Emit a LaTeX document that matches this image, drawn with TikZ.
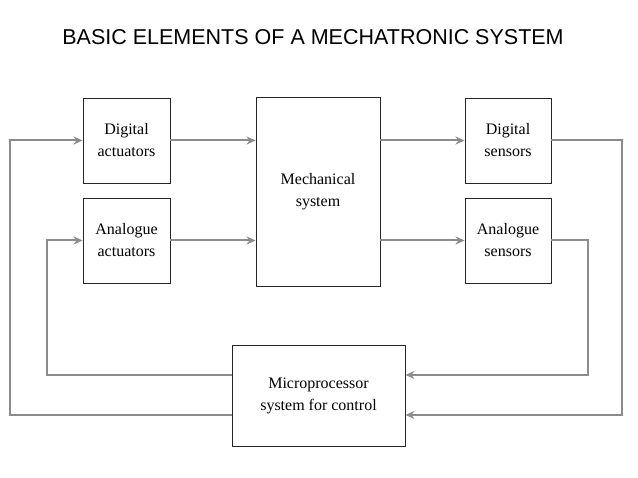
\documentclass[tikz,border=0pt]{standalone}
\usepackage{fontspec}
\setmainfont{Liberation Serif}
\newfontfamily\titlefont{Liberation Sans}
\usetikzlibrary{arrows.meta}
\begin{document}
\begin{tikzpicture}[x=1pt,y=-1pt,
  blk/.style={draw=black!85, line width=0.9pt, inner sep=0pt, align=center, font=\fontsize{16}{22}\selectfont},
  link/.style={draw=black!45, line width=2pt, -{Stealth[length=9pt,width=8pt]}},
  wire/.style={draw=black!45, line width=2pt}
]
\useasboundingbox (0,0) rectangle (638,478);
\node[font=\titlefont\fontsize{21.5}{24}\selectfont] (title) at (313,37) {BASIC ELEMENTS OF A MECHATRONIC SYSTEM};
% blocks
\node[blk, minimum width=87pt, minimum height=85pt] (da) at (126.5,140.5) {Digital\\actuators};
\node[blk, minimum width=87pt, minimum height=85pt] (aa) at (126.5,240.5) {Analogue\\actuators};
\node[blk, minimum width=124pt, minimum height=189pt] (ms) at (318,191.5) {Mechanical\\system};
\node[blk, minimum width=86pt, minimum height=85pt] (ds) at (508,140.5) {Digital\\sensors};
\node[blk, minimum width=86pt, minimum height=85pt] (as) at (508,240.5) {Analogue\\sensors};
\node[blk, minimum width=173pt, minimum height=101pt] (mp) at (318.5,395.5) {Microprocessor\\system for control};
% corner points
\coordinate (l1) at (10,140.5);  \coordinate (l2) at (10,415);
\coordinate (l3) at (47,240.5);  \coordinate (l4) at (47,375);
\coordinate (r1) at (622,140.5); \coordinate (r2) at (622,415);
\coordinate (r3) at (588,240.5); \coordinate (r4) at (588,375);
% connectors
\draw[link] (da.east) -- (ms.west |- da.east);
\draw[link] (aa.east) -- (ms.west |- aa.east);
\draw[link] (ms.east |- ds.west) -- (ds.west);
\draw[link] (ms.east |- as.west) -- (as.west);
\draw[link] (ds.east) -- (r1) -- (r2) -- (mp.east |- r2);
\draw[link] (as.east) -- (r3) -- (r4) -- (mp.east |- r4);
\draw[link] (mp.west |- l2) -- (l2) -- (l1) -- (da.west);
\draw[link] (mp.west |- l4) -- (l4) -- (l3) -- (aa.west);
\end{tikzpicture}
\end{document}
